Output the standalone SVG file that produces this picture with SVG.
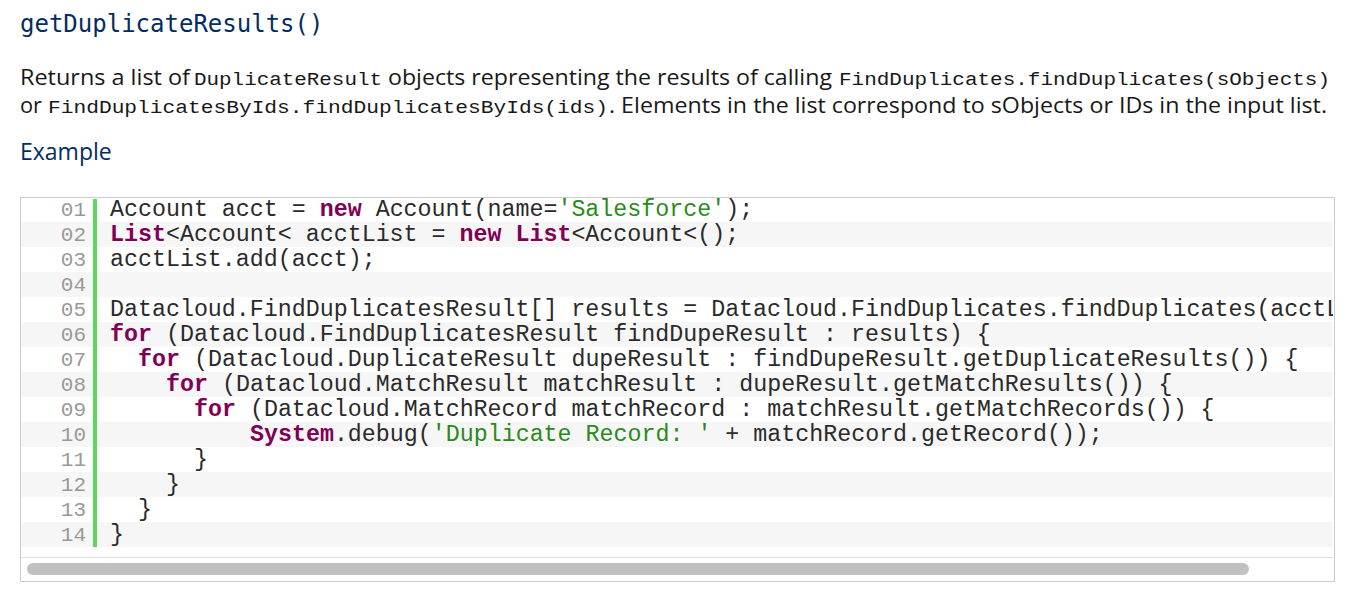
<svg xmlns="http://www.w3.org/2000/svg" width="1358" height="602" viewBox="0 0 1358 602">
<style>
.h{font-family:"DejaVu Sans Mono","Liberation Mono",monospace;fill:#032d60}
.p{font-family:"Open Sans","Noto Sans",sans-serif;font-size:22px;fill:#181818}
.ic{font-family:"Liberation Mono",monospace;font-size:18px;fill:#181818}
.n{font-family:"Liberation Mono",monospace;font-size:21px;fill:#999;text-anchor:end}
.c{font-family:"Liberation Mono",monospace;font-size:23.3px;fill:#2a2a2a;white-space:pre}
.c text{white-space:pre}
.k{fill:#7f0055;font-weight:bold}
.s{fill:#2a8a1a}
</style>
<defs><clipPath id="cl"><rect x="21" y="198" width="1312" height="360"/></clipPath></defs>
<rect width="1358" height="602" fill="#fff"/>
<text class="h" x="20" y="32" font-size="24">getDuplicateResults()</text>
<text class="p" x="20" y="85" textLength="170" lengthAdjust="spacingAndGlyphs">Returns a list of</text>
<text class="ic" x="194" y="85" textLength="188" lengthAdjust="spacingAndGlyphs">DuplicateResult</text>
<text class="p" x="388" y="85" textLength="444" lengthAdjust="spacingAndGlyphs">objects representing the results of calling</text>
<text class="ic" x="839" y="85" textLength="491" lengthAdjust="spacingAndGlyphs">FindDuplicates.findDuplicates(sObjects)</text>
<text class="p" x="20" y="113" textLength="22" lengthAdjust="spacingAndGlyphs">or</text>
<text class="ic" x="48" y="113" textLength="560" lengthAdjust="spacingAndGlyphs">FindDuplicatesByIds.findDuplicatesByIds(ids)</text>
<text class="p" x="609" y="113" textLength="718" lengthAdjust="spacingAndGlyphs">. Elements in the list correspond to sObjects or IDs in the input list.</text>
<text x="20" y="160" font-family="'Open Sans','Noto Sans',sans-serif" font-size="23" fill="#032d60">Example</text>
<rect x="20.5" y="197.5" width="1314" height="384" fill="#fff" stroke="#ccc"/>
<g fill="#f6f6f6">
<rect x="21" y="222" width="1312" height="25"/><rect x="21" y="272" width="1312" height="25"/><rect x="21" y="322" width="1312" height="25"/><rect x="21" y="372" width="1312" height="25"/><rect x="21" y="422" width="1312" height="25"/><rect x="21" y="472" width="1312" height="25"/><rect x="21" y="522" width="1312" height="25"/>
</g>
<rect x="93" y="199" width="4" height="348" fill="#5ed65a"/>
<g class="n">
<text x="86" y="216">01</text><text x="86" y="241">02</text><text x="86" y="266">03</text><text x="86" y="291">04</text><text x="86" y="316">05</text><text x="86" y="341">06</text><text x="86" y="366">07</text><text x="86" y="391">08</text><text x="86" y="416">09</text><text x="86" y="441">10</text><text x="86" y="466">11</text><text x="86" y="491">12</text><text x="86" y="516">13</text><text x="86" y="541">14</text>
</g>
<g class="c" clip-path="url(#cl)">
<text x="110" y="216">Account acct = <tspan class="k">new</tspan> Account(name=<tspan class="s">'Salesforce'</tspan>);</text>
<text x="110" y="241"><tspan class="k">List</tspan>&lt;Account&lt; acctList = <tspan class="k">new</tspan> <tspan class="k">List</tspan>&lt;Account&lt;();</text>
<text x="110" y="266">acctList.add(acct);</text>
<text x="110" y="316">Datacloud.FindDuplicatesResult[] results = Datacloud.FindDuplicates.findDuplicates(acctList);</text>
<text x="110" y="341"><tspan class="k">for</tspan> (Datacloud.FindDuplicatesResult findDupeResult : results) {</text>
<text x="138" y="366"><tspan class="k">for</tspan> (Datacloud.DuplicateResult dupeResult : findDupeResult.getDuplicateResults()) {</text>
<text x="166" y="391"><tspan class="k">for</tspan> (Datacloud.MatchResult matchResult : dupeResult.getMatchResults()) {</text>
<text x="194" y="416"><tspan class="k">for</tspan> (Datacloud.MatchRecord matchRecord : matchResult.getMatchRecords()) {</text>
<text x="250" y="441"><tspan class="k">System</tspan>.debug(<tspan class="s">'Duplicate Record: '</tspan> + matchRecord.getRecord());</text>
<text x="194" y="466">}</text>
<text x="166" y="491">}</text>
<text x="138" y="516">}</text>
<text x="110" y="541">}</text>
</g>
<line x1="21" y1="557.5" x2="1333" y2="557.5" stroke="#e0e0e0"/>
<rect x="27" y="563" width="1222" height="12" rx="6" fill="#c1c1c1"/>
</svg>
